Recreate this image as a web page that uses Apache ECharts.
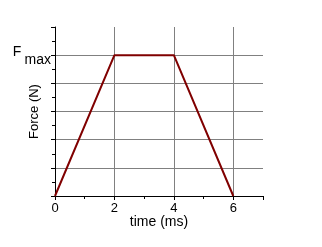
<!DOCTYPE html>
<html>
<head>
<meta charset="utf-8">
<script src="https://cdn.jsdelivr.net/npm/echarts@6/dist/echarts.min.js"></script>
<style>
html,body{margin:0;padding:0;background:#fff;}
#chart{width:322px;height:247px;}
</style>
</head>
<body>
<div id="chart"></div>
<script>
const timeValues = [0, 2, 4, 6];
const forceValues = [0, 5, 5, 0];
const fmaxLevel = 5;
const xTitle = 'time (ms)';
const yTitle = 'Force (N)';

const chart = echarts.init(document.getElementById('chart'));
const font = '"Liberation Sans", Arial, sans-serif';
chart.setOption({
  animation: false,
  grid: {left: 55, right: 59, top: 27, bottom: 51, containLabel: false, outerBoundsMode: 'none'},
  xAxis: {
    type: 'value', min: 0, max: 7, interval: 2,
    name: xTitle, nameLocation: 'middle', nameGap: 19, nameMoveOverlap: false,
    nameTextStyle: {color: '#000', fontSize: 14, fontFamily: font, verticalAlign: 'top'},
    axisLine: {show: true, onZero: false, lineStyle: {color: '#000', width: 1}},
    axisTick: {show: true, inside: false, length: 4, lineStyle: {color: '#000'}},
    minorTick: {show: true, splitNumber: 2, length: 3, lineStyle: {color: '#000'}},
    axisLabel: {color: '#000', fontSize: 13, fontFamily: font, margin: 6, showMaxLabel: false},
    splitLine: {show: true, showMinLine: false, showMaxLine: false, lineStyle: {color: '#808080', width: 1}}
  },
  yAxis: {
    type: 'value', min: 0, max: 6, interval: 1,
    name: yTitle, nameLocation: 'middle', nameGap: 14, nameMoveOverlap: false,
    nameTextStyle: {color: '#000', fontSize: 13, fontFamily: font},
    axisLine: {show: true, onZero: false, lineStyle: {color: '#000', width: 1}},
    axisTick: {show: true, inside: false, length: 4, lineStyle: {color: '#000'}},
    minorTick: {show: true, splitNumber: 2, length: 3, lineStyle: {color: '#000'}},
    axisLabel: {
      margin: 4,
      formatter: function (v) { return v === fmaxLevel ? '{f|F} {m|max}' : ''; },
      rich: {
        f: {color: '#000', fontSize: 14, fontFamily: font, padding: [0, 0, 6, 0]},
        m: {color: '#000', fontSize: 14, fontFamily: font, padding: [10, 0, 0, 0]}
      }
    },
    splitLine: {show: true, showMinLine: false, showMaxLine: false, lineStyle: {color: '#808080', width: 1}}
  },
  series: [{
    type: 'line',
    data: timeValues.map((t, i) => [t, forceValues[i]]),
    symbol: 'none',
    lineStyle: {color: '#800000', width: 2},
    z: 5
  }]
});
</script>
</body>
</html>
